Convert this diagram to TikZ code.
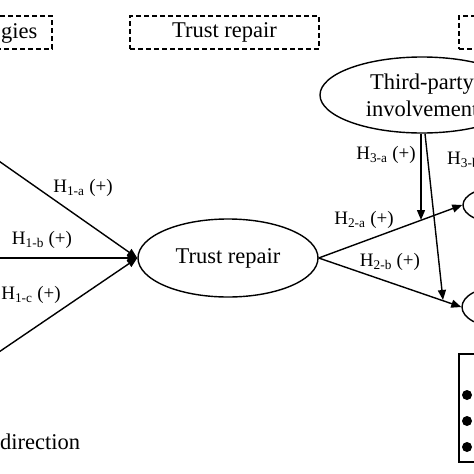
\documentclass[tikz,border=0pt]{standalone}
\usepackage{fontspec}
\setmainfont{Liberation Serif}
\usetikzlibrary{shapes.geometric,arrows.meta}
\begin{document}
\begin{tikzpicture}[x=1pt,y=-1pt,
  every node/.style={font=\fontsize{22.5}{26}\selectfont},
  oval/.style={ellipse,draw,line width=1.4pt,inner sep=0pt},
  headbox/.style={draw,dashed,dash pattern=on 5pt off 3pt,line width=1.4pt,inner sep=0pt},
  arr/.style={line width=1.4pt,-{Triangle[length=10pt,width=8pt]}},
  lbl/.style={inner sep=0pt,font=\fontsize{19}{22}\selectfont}]
\useasboundingbox (0,0) rectangle (474,474);
\clip (0,0) rectangle (474,474);
% header boxes
\node[headbox,minimum width=120pt,minimum height=33pt] (hb1) at (-8,32.5) {};
\node[inner sep=0pt,anchor=west] (hb1t) at (1,33) {gies};
\node[headbox,minimum width=189pt,minimum height=33pt] (hb2) at (224.5,32.5) {Trust repair};
\node[headbox,minimum width=120pt,minimum height=33pt] (hb3) at (519,32.5) {};
% ellipses
\node[oval,minimum width=180pt,minimum height=78pt] (tr) at (228,258) {Trust repair};
\node[oval,minimum width=204pt,minimum height=76pt,align=center] (tp) at (422,95) {Third-party\\[1pt]involvement};
\node[oval,minimum width=74pt,minimum height=36pt] (o1) at (500,205) {};
\node[oval,minimum width=74pt,minimum height=40pt] (o2) at (499,307) {};
% source ends (off canvas)
\coordinate (s1) at (-4,159);
\coordinate (s2) at (-4,258);
\coordinate (s3) at (-4,354);
\draw[arr] (s1) -- (tr.west);
\draw[arr] (s2) -- (tr.west);
\draw[arr] (s3) -- (tr.west);
\node[lbl] (h1a) at (83,188) {H\textsubscript{1-a} (+)};
\node[lbl] (h1b) at (42,240) {H\textsubscript{1-b} (+)};
\node[lbl] (h1c) at (31,295) {H\textsubscript{1-c} (+)};
% outputs
\draw[arr] (tr.east) -- (o1.west);
\draw[arr] (tr.east) -- (o2.west);
\node[lbl] (h2a) at (364,220) {H\textsubscript{2-a} (+)};
\node[lbl] (h2b) at (390,262) {H\textsubscript{2-b} (+)};
% moderation
\coordinate (m1) at (421,220);
\coordinate (m2) at (443,300);
\draw[arr] ([xshift=-1pt]tp.south) -- (m1);
\draw[arr] ([xshift=3pt]tp.south) -- (m2);
\node[lbl] (h3a) at (386,155) {H\textsubscript{3-a} (+)};
\node[lbl,anchor=west] (h3b) at (447,160) {H\textsubscript{3-b} (+)};
% legend
\node[draw,line width=1.2pt,minimum width=80pt,minimum height=108pt,inner sep=0pt] (lg) at (499,408) {};
\fill (467,395) circle (5pt);
\fill (467,421) circle (5pt);
\fill (467,447) circle (5pt);
\node[inner sep=0pt,anchor=west] (dir) at (0,442) {direction};
\end{tikzpicture}
\end{document}
